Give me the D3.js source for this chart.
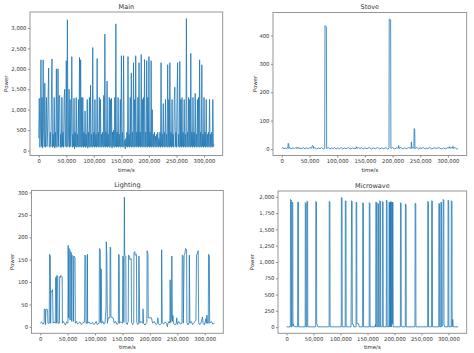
<!DOCTYPE html>
<html>
<head>
<meta charset="utf-8">
<script src="https://cdn.jsdelivr.net/npm/d3@7"></script>
<style>
  body { margin: 0; background: #fff; }
  text { font-family: "DejaVu Sans", sans-serif; fill: #333; }
</style>
</head>
<body>
<svg id="chart"></svg>
<script>
const W = 474, H = 353;

const xTicks = [0, 50000, 100000, 150000, 200000, 250000, 300000];
const mainTicks = [0, 500, 1000, 1500, 2000, 2500, 3000];
const stoveTicks = [0, 100, 200, 300, 400];
const lightingTicks = [0, 50, 100, 150, 200, 250, 300];
const microwaveTicks = [0, 250, 500, 750, 1000, 1250, 1500, 1750, 2000];

// main meter, one reading every 1000 s
const mainStep = 1000;
const mainPower = [
  300, 1280, 80, 450, 2220, 100, 1300, 60, 2220, 400, 100, 1650, 80, 500, 1300, 100, 450, 1300, 2020, 100,
  80, 450, 100, 1250, 2240, 80, 400, 100, 1300, 60, 450, 100, 2000, 80, 400, 2000, 100, 1300, 1350, 80,
  400, 80, 1300, 100, 450, 80, 1250, 1500, 100, 450, 2200, 80, 3200, 100, 450, 1500, 80, 1250, 100, 500,
  2300, 80, 400, 100, 1280, 40, 450, 100, 1300, 80, 400, 100, 1250, 80, 2280, 100, 2220, 80, 1300, 100,
  1300, 80, 450, 100, 970, 80, 400, 100, 1250, 60, 450, 100, 1300, 80, 1600, 100, 400, 80, 2520, 100,
  450, 80, 1250, 100, 400, 80, 2250, 100, 450, 80, 1300, 100, 1250, 80, 400, 100, 450, 80, 1350, 100,
  2850, 80, 450, 100, 1700, 80, 400, 100, 1300, 80, 1250, 100, 1280, 60, 450, 100, 500, 80, 1300, 100,
  3100, 80, 450, 100, 1300, 80, 400, 100, 1250, 80, 2320, 100, 450, 80, 2320, 100, 250, 40, 300, 100,
  450, 80, 2300, 100, 400, 80, 1300, 100, 1900, 80, 450, 100, 2150, 80, 1250, 100, 2320, 80, 450, 100,
  1300, 80, 2150, 100, 450, 80, 2350, 100, 1250, 80, 1300, 100, 2230, 80, 450, 100, 2200, 80, 1300, 100,
  2300, 80, 450, 100, 2200, 80, 1000, 100, 400, 80, 450, 100, 350, 80, 400, 100, 450, 80, 300, 100,
  450, 80, 2150, 100, 400, 80, 1150, 100, 450, 80, 1250, 100, 400, 80, 2100, 100, 1250, 80, 2150, 100,
  450, 80, 1250, 100, 400, 80, 1250, 1550, 100, 450, 80, 1300, 2150, 100, 400, 80, 2180, 100, 1250, 80,
  1300, 100, 450, 80, 1250, 100, 400, 80, 3230, 100, 450, 80, 1300, 100, 1250, 80, 2380, 100, 450, 80,
  1300, 100, 450, 80, 1400, 100, 400, 80, 1250, 100, 1300, 80, 2220, 100, 450, 80, 2100, 100, 400, 80,
  1300, 100, 450, 80, 1250, 100, 400, 80, 450, 100, 1250, 80, 400, 100, 450, 80, 1250, 100, 150
];

const stove = [
  [0, 2], [2000, 5], [4000, 0], [6000, 4], [8000, 1], [10000, 5], [11000, 2], [11500, 20], [12500, 18],
  [13000, 2], [15000, 5], [17000, 0], [20000, 4], [23000, 1], [25000, 5], [27500, 2], [28000, 6],
  [29000, 2], [31000, 5], [33000, 0], [35000, 4], [36000, 1], [39000, 5], [42000, 0], [45000, 4],
  [48000, 1], [51000, 5], [54500, 3], [55000, 12], [57000, 10], [57500, 2], [60000, 5], [63000, 0],
  [66000, 4], [69000, 1], [72000, 5], [75000, 0], [77500, 2], [78000, 435], [80500, 430], [81000, 2],
  [84000, 5], [87000, 0], [90000, 4], [93000, 1], [95000, 5], [98000, 0], [101000, 4], [104000, 1],
  [107000, 5], [110000, 0], [113000, 4], [116000, 1], [120000, 5], [124000, 0], [128000, 4], [131000, 1],
  [134000, 2], [134500, 8], [135500, 2], [138000, 5], [140000, 4], [141000, 1], [144000, 5], [147000, 0],
  [150000, 4], [154000, 1], [158000, 5], [162000, 0], [165000, 4], [169000, 1], [173000, 5], [177000, 0],
  [180000, 4], [184000, 1], [188000, 5], [191000, 0], [193500, 2], [194000, 458], [196500, 455],
  [197000, 2], [200000, 5], [204000, 0], [207000, 4], [210500, 3], [211000, 12], [212000, 2], [215000, 5],
  [219000, 0], [222000, 4], [225000, 1], [229000, 5], [233500, 2], [234000, 25], [235000, 3], [237000, 5],
  [238500, 2], [239000, 72], [240000, 70], [240500, 2], [244000, 5], [247000, 0], [250000, 5], [251000, 1],
  [255000, 5], [259000, 0], [262000, 4], [263000, 1], [267000, 5], [271000, 0], [275000, 4], [280000, 2],
  [284000, 5], [288000, 0], [292000, 4], [296000, 1], [300000, 5], [302500, 3], [303000, 8], [304000, 2],
  [306000, 5], [308500, 3], [309000, 10], [310000, 2], [313000, 5], [316000, 0], [318000, 1]
];

const lighting = [
  [0, 8], [2500, 11], [4500, 6], [7000, 8], [7500, 40], [9000, 38], [9500, 5], [10500, 40], [13500, 38], [14000, 8],
  [16500, 8], [17000, 162], [18500, 158], [19000, 8], [19500, 80], [22000, 78], [22500, 83], [23500, 8],
  [25500, 11], [27500, 8], [28000, 110], [29500, 112], [30000, 8], [30500, 115], [32000, 113], [32500, 8],
  [35000, 8], [35500, 112], [37000, 110], [37500, 115], [40000, 112], [40500, 8],
  [42000, 12], [44000, 8], [46000, 4], [48000, 11],
  [50500, 8], [51000, 182], [52000, 20], [52500, 175], [54000, 172], [54500, 15], [55000, 168],
  [57000, 165], [57500, 12], [58000, 160], [60000, 157], [60500, 12], [61500, 158], [63500, 155], [64000, 8],
  [66000, 12], [68000, 6], [70000, 8], [72500, 11], [75000, 5], [78000, 10], [80500, 10], [81000, 22],
  [81500, 160], [83000, 157], [83500, 8], [85500, 8], [86000, 162], [86500, 8],
  [89000, 11], [92000, 6], [95000, 10], [98000, 5], [100000, 8], [102000, 12], [104000, 5],
  [107500, 8], [108000, 175], [109500, 173], [110000, 10], [110500, 130], [111500, 128], [112000, 8],
  [114000, 12], [116000, 6], [118000, 8], [120000, 40], [120500, 190], [121500, 160], [122500, 8],
  [124000, 20], [127000, 20], [127500, 178], [128500, 175], [129000, 22], [133000, 20], [135000, 8],
  [137500, 12], [140000, 5], [142500, 8], [143000, 162], [144000, 160], [144500, 8], [147000, 11],
  [150000, 8], [150500, 158], [152000, 155], [152500, 10], [153500, 290], [154000, 160], [156000, 158], [156500, 10],
  [158500, 5], [160500, 12], [161000, 160], [163000, 158], [163500, 150], [166000, 152], [166500, 10],
  [168500, 5], [170500, 10], [171000, 165], [172500, 168], [173000, 160], [175500, 162], [176000, 10],
  [178000, 5], [179500, 10], [180000, 158], [181500, 8], [184000, 12], [187000, 8], [187500, 40], [188500, 8],
  [191000, 4], [194500, 10], [195000, 170], [196500, 162], [197000, 20], [203000, 20], [205000, 8],
  [208000, 12], [211000, 5], [214000, 8], [214500, 20], [215500, 8], [218000, 4],
  [221000, 8], [221500, 172], [222500, 10], [225000, 6], [228000, 11],
  [230000, 8], [232000, 0], [233000, 8], [235000, 12],
  [236500, 8], [237000, 105], [238000, 10], [239500, 22], [240000, 158], [241000, 12], [242000, 25], [243000, 8],
  [245500, 4], [248000, 8], [249000, 20], [250000, 5], [252500, 12], [255500, 6],
  [258500, 8], [259000, 160], [260500, 158], [261000, 8], [262500, 160], [264000, 165], [265000, 175],
  [267000, 172], [267500, 10], [269500, 4], [271500, 10], [272000, 160], [273000, 8],
  [275500, 12], [278000, 5], [280000, 8], [284000, 15], [285000, 160], [287000, 165], [288000, 170], [289000, 10],
  [291000, 5], [293000, 8], [296000, 22], [297000, 8], [299500, 4], [302000, 18], [303000, 8], [304000, 26], [305000, 8],
  [306500, 8], [307000, 162], [308500, 158], [309000, 8], [312000, 12], [315000, 6], [318000, 8]
];

const microwave = [
  [0, 5], [7000, 5], [7300, 1960], [8800, 1950], [9100, 5], [10100, 5], [10300, 1920], [11500, 1910],
  [11800, 20], [12500, 50], [14000, 8],
  [20500, 5], [20700, 1920], [22000, 1915], [22300, 5],
  [34500, 5], [34700, 1910], [35800, 1900], [36100, 5], [37500, 5], [37700, 1930], [39000, 1925], [39300, 5],
  [54000, 5], [54200, 1930], [55500, 1920], [55800, 50], [57000, 40], [58000, 5],
  [78900, 5], [79100, 1930], [80300, 1920], [80600, 5],
  [101400, 5], [101600, 1990], [102800, 1980], [103100, 5],
  [108700, 5], [108900, 1940], [110100, 1935], [110400, 5],
  [119500, 5], [120500, 1940], [121500, 1930], [121800, 45], [124000, 40], [124500, 5],
  [128800, 5], [129000, 1920], [130000, 1910], [130300, 55], [133500, 50], [134500, 5],
  [141000, 5], [141200, 1910], [142400, 1900], [142700, 5],
  [153100, 5], [153300, 1910], [154500, 1900], [154800, 5],
  [164000, 5], [164500, 40], [165300, 5], [165500, 1920], [166700, 1910], [167000, 5],
  [169000, 5], [169200, 1900], [170300, 1890], [170600, 5],
  [172600, 5], [172800, 1940], [174000, 1930], [174300, 5],
  [177500, 5], [177700, 1930], [178900, 1920], [179200, 5],
  [184800, 5], [185000, 1950], [186200, 1940], [186500, 5],
  [189700, 5], [189900, 1920], [190800, 1910], [191100, 5], [191800, 5], [192000, 1910], [192600, 1900],
  [192800, 5], [193000, 1930], [193800, 1925], [194000, 5], [194800, 5], [195000, 1920], [195800, 1915],
  [196000, 50], [196300, 1920], [197300, 1910], [197600, 5],
  [210900, 5], [211100, 1910], [212300, 1900], [212600, 40], [213500, 5],
  [220100, 5], [220300, 1890], [221500, 1880], [221800, 5],
  [237500, 5], [238000, 40], [238300, 1900], [239500, 1895], [239800, 5],
  [261500, 5], [261700, 1930], [262900, 1920], [263200, 5],
  [268800, 5], [269000, 1940], [270200, 1935], [270500, 5],
  [282100, 5], [282300, 1900], [283500, 1890], [283800, 5],
  [285800, 5], [286000, 1920], [287200, 1910], [287500, 5],
  [289500, 30], [290300, 1960], [291500, 1950], [291800, 50], [293000, 5],
  [299200, 5], [299400, 1950], [300600, 1940], [300900, 5],
  [305200, 5], [305400, 1940], [306600, 1930], [306900, 5], [308000, 120], [309000, 5], [318000, 5]
];

const panels = [
  { title: "Main", data: mainPower.map((v, i) => [i * mainStep, v]), ticks: mainTicks,
    l: 30, r: 222.7, t: 12, b: 155.5, labX: 7.5 },
  { title: "Stove", data: stove, ticks: stoveTicks,
    l: 273, r: 466.7, t: 12.5, b: 155.5, labX: 257 },
  { title: "Lighting", data: lighting, ticks: lightingTicks,
    l: 31.5, r: 223.3, t: 190.5, b: 333.3, labX: 14 },
  { title: "Microwave", data: microwave, ticks: microwaveTicks,
    l: 278, r: 466.7, t: 191, b: 333.3, labX: 254 }
];

const svg = d3.select("#chart").attr("width", W).attr("height", H);
svg.append("rect").attr("width", W).attr("height", H).attr("fill", "#fff");
const fmt = d3.format(",");

// matplotlib style autoscale: 5% margin on each side
function padded(ext) {
  const m = (ext[1] - ext[0]) * 0.05;
  return [ext[0] - m, ext[1] + m];
}

panels.forEach(p => {
  const x = d3.scaleLinear().domain(padded(d3.extent(p.data, d => d[0]))).range([p.l, p.r]);
  const y = d3.scaleLinear().domain(padded(d3.extent(p.data, d => d[1]))).range([p.b, p.t]);
  const g = svg.append("g");

  g.append("path")
    .datum(p.data)
    .attr("d", d3.line().x(d => x(d[0])).y(d => y(d[1])))
    .attr("fill", "none")
    .attr("stroke", "#1f77b4")
    .attr("stroke-width", 0.8);

  const xa = g.append("g")
    .attr("transform", `translate(0,${p.b})`)
    .call(d3.axisBottom(x).tickValues(xTicks).tickFormat(fmt).tickSize(2).tickPadding(1.5));
  const ya = g.append("g")
    .attr("transform", `translate(${p.l},0)`)
    .call(d3.axisLeft(y).tickValues(p.ticks).tickFormat(fmt).tickSize(2).tickPadding(1.5));
  [xa, ya].forEach(a => {
    a.attr("font-family", null).attr("font-size", null);
    a.select(".domain").remove();
    a.selectAll("line").attr("stroke", "#8c8c8c");
    a.selectAll("text").attr("font-size", 5.3).attr("fill", "#333");
  });

  g.append("rect")
    .attr("x", p.l).attr("y", p.t)
    .attr("width", p.r - p.l).attr("height", p.b - p.t)
    .attr("fill", "none").attr("stroke", "#8c8c8c").attr("stroke-width", 0.9);

  g.append("text")
    .attr("x", (p.l + p.r) / 2).attr("y", p.t - 3.5)
    .attr("text-anchor", "middle").attr("font-size", 6.5)
    .text(p.title);

  g.append("text")
    .attr("x", (p.l + p.r) / 2).attr("y", p.b + 16)
    .attr("text-anchor", "middle").attr("font-size", 5.4)
    .text("time/s");

  g.append("text")
    .attr("transform", `translate(${p.labX},${(p.t + p.b) / 2}) rotate(-90)`)
    .attr("text-anchor", "middle").attr("font-size", 5.4)
    .text("Power");
});
</script>
</body>
</html>
